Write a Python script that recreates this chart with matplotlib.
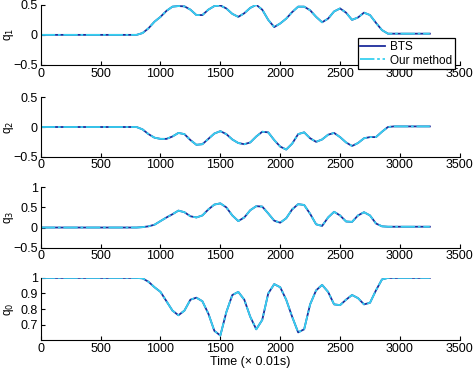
import matplotlib
matplotlib.use("Agg")
import matplotlib.pyplot as plt
from matplotlib.ticker import FuncFormatter

plt.rcParams["font.family"] = ["Liberation Sans", "DejaVu Sans"]
plt.rcParams["font.size"] = 9

# ---- data (time in units of 0.01 s) ----------------------------------------
TIME = list(range(0, 3300, 50))

FLAT_START = [0.0] * 17          # t = 0 .. 800
Q1_BTS = FLAT_START + [
    0.03, 0.11, 0.22, 0.30, 0.40, 0.47, 0.48, 0.475, 0.42, 0.33,
    0.33, 0.42, 0.48, 0.49, 0.44, 0.35, 0.30, 0.36, 0.45, 0.50,
    0.42, 0.25, 0.13, 0.19, 0.27, 0.38, 0.47, 0.47, 0.41, 0.30,
    0.21, 0.27, 0.39, 0.44, 0.37, 0.25, 0.29, 0.37, 0.33, 0.20,
    0.08, 0.02,
] + [0.02] * 7

Q2_BTS = FLAT_START + [
    -0.04, -0.12, -0.18, -0.20, -0.20, -0.16, -0.10, -0.12, -0.22, -0.30,
    -0.29, -0.20, -0.11, -0.07, -0.12, -0.21, -0.27, -0.29, -0.26, -0.16,
    -0.08, -0.09, -0.22, -0.33, -0.38, -0.28, -0.12, -0.09, -0.19, -0.25,
    -0.21, -0.13, -0.10, -0.17, -0.26, -0.32, -0.27, -0.19, -0.17, -0.17,
    -0.08, 0.0,
] + [0.01] * 7

Q3_BTS = FLAT_START + [
    0.01, 0.03, 0.07, 0.16, 0.25, 0.33, 0.42, 0.38, 0.28, 0.25,
    0.30, 0.45, 0.57, 0.60, 0.50, 0.30, 0.16, 0.25, 0.43, 0.53,
    0.52, 0.35, 0.17, 0.12, 0.23, 0.45, 0.58, 0.56, 0.34, 0.08,
    0.04, 0.25, 0.39, 0.30, 0.15, 0.14, 0.30, 0.38, 0.30, 0.10,
    0.03, 0.02,
] + [0.02] * 7

Q0_BTS = [1.0] * 17 + [
    0.997, 0.975, 0.94, 0.91, 0.85, 0.79, 0.76, 0.79, 0.86, 0.873,
    0.85, 0.77, 0.66, 0.63, 0.78, 0.89, 0.91, 0.86, 0.75, 0.67,
    0.73, 0.90, 0.96, 0.94, 0.86, 0.75, 0.65, 0.67, 0.83, 0.92,
    0.955, 0.91, 0.83, 0.825, 0.86, 0.89, 0.87, 0.83, 0.84, 0.92,
    0.99, 1.0,
] + [1.0] * 7

# "Our method" tracks BTS to within line width
Q1_OURS = list(Q1_BTS)
Q2_OURS = list(Q2_BTS)
Q3_OURS = list(Q3_BTS)
Q0_OURS = list(Q0_BTS)

Y_LABELS = ["q$_1$", "q$_2$", "q$_3$", "q$_0$"]
Y_TICKS = [[-0.5, 0, 0.5], [-0.5, 0, 0.5], [-0.5, 0, 0.5, 1], [0.7, 0.8, 0.9, 1]]
Y_LIMS = [(-0.5, 0.5), (-0.5, 0.5), (-0.5, 1), (0.6, 1)]
X_TICKS = [0, 500, 1000, 1500, 2000, 2500, 3000, 3500]

BTS_COLOR = "#1c2c9c"
OURS_COLOR = "#38d0f0"

# axes boxes in figure fractions (left, bottom, width, height)
BOXES = [
    (0.086, 0.826, 0.884, 0.161),
    (0.086, 0.580, 0.884, 0.159),
    (0.086, 0.336, 0.884, 0.162),
    (0.086, 0.088, 0.884, 0.167),
]


def tick_fmt(v, _pos):
    return f"{v:g}".replace("-", "\u2212")


fig = plt.figure(figsize=(4.74, 3.73), dpi=100)
series = [(Q1_BTS, Q1_OURS), (Q2_BTS, Q2_OURS), (Q3_BTS, Q3_OURS), (Q0_BTS, Q0_OURS)]

for i, (bts, ours) in enumerate(series):
    ax = fig.add_axes(BOXES[i])
    ax.plot(TIME, bts, color=BTS_COLOR, lw=1.3, label="BTS")
    ax.plot(TIME, ours, color=OURS_COLOR, lw=1.3, ls=(0, (8, 1.5, 1.5, 1.5)),
            label="Our method")
    ax.set_xlim(0, 3500)
    ax.set_ylim(*Y_LIMS[i])
    ax.set_xticks(X_TICKS)
    ax.set_yticks(Y_TICKS[i])
    ax.yaxis.set_major_formatter(FuncFormatter(tick_fmt))
    ax.spines["top"].set_visible(False)
    ax.spines["right"].set_visible(False)
    ax.tick_params(direction="in", length=3, width=0.8, pad=2, labelsize=9)
    ax.set_ylabel(Y_LABELS[i], fontsize=8.5)
    ax.yaxis.set_label_coords(-0.058, 0.5)
    if i == 0:
        leg = ax.legend(loc="lower right", bbox_to_anchor=(0.988, -0.067),
                        fancybox=False, edgecolor="black", framealpha=1,
                        fontsize=8.5, handlelength=2.1, borderpad=0.2,
                        labelspacing=0.15, handletextpad=0.45, borderaxespad=0)
        leg.get_frame().set_linewidth(0.9)
        leg.set_zorder(5)
    if i == 3:
        ax.set_xlabel("Time (\u00d7 0.01s)", labelpad=1)

fig.savefig("out.png", dpi=100)
